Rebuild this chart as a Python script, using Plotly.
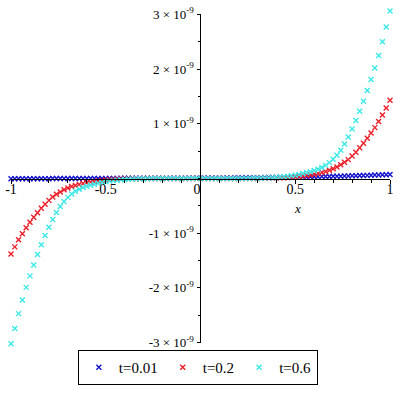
import numpy as np
import plotly.graph_objects as go

# x sampling grid (-1 .. 1, step 0.02)
x_vals = np.round(np.linspace(-1, 1, 101), 2)

# values in units of 1e-9
blue_t001 = [
    -0.006, -0.006, -0.005, -0.005, -0.005, -0.004, -0.004, -0.004, -0.003, -0.003,
    -0.003, -0.002, -0.002, -0.002, -0.001, -0.001, -0.001, 0.0, 0.0, 0.0,
    0.0, 0.001, 0.001, 0.001, 0.001, 0.002, 0.002, 0.002, 0.002, 0.003,
    0.003, 0.003, 0.003, 0.004, 0.004, 0.004, 0.004, 0.005, 0.005, 0.005,
    0.005, 0.006, 0.006, 0.006, 0.006, 0.007, 0.007, 0.007, 0.007, 0.008,
    0.008, 0.008, 0.009, 0.009, 0.009, 0.010, 0.010, 0.011, 0.011, 0.012,
    0.012, 0.013, 0.013, 0.014, 0.015, 0.015, 0.016, 0.017, 0.018, 0.019,
    0.020, 0.021, 0.022, 0.023, 0.024, 0.025, 0.026, 0.028, 0.029, 0.030,
    0.032, 0.033, 0.035, 0.036, 0.038, 0.040, 0.041, 0.043, 0.045, 0.047,
    0.049, 0.051, 0.053, 0.055, 0.057, 0.060, 0.062, 0.064, 0.067, 0.069,
    0.072,
]

red_t02 = [
    -1.38, -1.25, -1.12, -1.01, -0.90, -0.80, -0.71, -0.625, -0.545, -0.47,
    -0.40, -0.338, -0.288, -0.245, -0.205, -0.174, -0.148, -0.127, -0.108, -0.091,
    -0.076, -0.064, -0.053, -0.044, -0.035, -0.028, -0.023, -0.018, -0.014, -0.011,
    -0.009, -0.007, -0.005, -0.004, -0.003, -0.002, -0.001, -0.001, 0.0, 0.0,
    0.0, 0.0, 0.0, 0.0, 0.0, 0.0, 0.0, 0.0, 0.0, 0.0,
    0.0, 0.0, 0.0, 0.0, 0.0, 0.0, 0.0, 0.0, 0.0, 0.0,
    0.0, 0.0, 0.0, 0.001, 0.001, 0.002, 0.003, 0.004, 0.005, 0.007,
    0.009, 0.012, 0.015, 0.019, 0.024, 0.029, 0.036, 0.045, 0.055, 0.066,
    0.078, 0.093, 0.110, 0.130, 0.152, 0.178, 0.210, 0.250, 0.295, 0.345,
    0.410, 0.480, 0.560, 0.645, 0.735, 0.830, 0.930, 1.040, 1.160, 1.290,
    1.430,
]

cyan_t06 = [
    -3.02, -2.74, -2.47, -2.22, -1.99, -1.78, -1.58, -1.39, -1.21, -1.04,
    -0.89, -0.75, -0.62, -0.51, -0.42, -0.345, -0.285, -0.235, -0.195, -0.165,
    -0.142, -0.122, -0.105, -0.088, -0.072, -0.058, -0.047, -0.038, -0.030, -0.024,
    -0.019, -0.014, -0.010, -0.007, -0.005, -0.004, -0.003, -0.002, -0.001, -0.001,
    0.0, 0.0, 0.0, 0.0, 0.0, 0.0, 0.0, 0.0, 0.0, 0.0,
    0.0, 0.0, 0.0, 0.0, 0.0, 0.0, 0.0, 0.0, 0.0, 0.0,
    0.0, 0.001, 0.001, 0.002, 0.003, 0.004, 0.006, 0.008, 0.011, 0.015,
    0.020, 0.025, 0.032, 0.040, 0.049, 0.060, 0.074, 0.090, 0.108, 0.125,
    0.145, 0.170, 0.200, 0.240, 0.290, 0.350, 0.425, 0.515, 0.630, 0.760,
    0.905, 1.06, 1.23, 1.41, 1.61, 1.81, 2.02, 2.25, 2.50, 2.77,
    3.06,
]

series_names = ["t=0.01", "t=0.2", "t=0.6"]
series_values = [blue_t001, red_t02, cyan_t06]
series_colors = ["rgb(20,20,205)", "rgb(235,30,40)", "rgb(60,232,232)"]

x_tick_vals = [-1, -0.5, 0, 0.5, 1]
x_tick_text = ["-1", "-0.5", "0&nbsp;&nbsp;", "0.5", "1"]
y_tick_vals = [-3, -2, -1, 1, 2, 3]
y_tick_text = ["-3 × 10<sup>-9</sup>", "-2 × 10<sup>-9</sup>", "-1 × 10<sup>-9</sup>",
               "1 × 10<sup>-9</sup>", "2 × 10<sup>-9</sup>", "3 × 10<sup>-9</sup>"]

FONT = "Liberation Serif"

fig = go.Figure()
for name, vals, col in zip(series_names, series_values, series_colors):
    fig.add_trace(go.Scatter(
        x=x_vals, y=vals, name=name, mode="markers", cliponaxis=False,
        marker=dict(symbol="x-thin", size=5, color=col,
                    line=dict(width=1.4, color=col)),
    ))

fig.update_layout(
    width=400, height=400,
    margin=dict(l=11, r=10, t=10, b=53),
    paper_bgcolor="white", plot_bgcolor="white",
    font=dict(family=FONT, size=13, color="black"),
    showlegend=True,
    legend=dict(orientation="h", x=0.493, xanchor="center", y=-0.009, yanchor="top",
                bordercolor="black", borderwidth=1, bgcolor="white",
                font=dict(family=FONT, size=15), itemwidth=30,
                tracegroupgap=0),
    xaxis=dict(range=[-1, 1], anchor="free", position=0.5, showgrid=False,
               zeroline=False, showline=True, linecolor="black", linewidth=1,
               ticks="outside", ticklen=4, tickcolor="black",
               tickvals=x_tick_vals, ticktext=x_tick_text,
               tickfont=dict(family=FONT, size=14),
               ticklabelstandoff=-6, ticklabeloverflow="allow",
               minor=dict(ticks="outside", dtick=0.1, ticklen=3, tickcolor="black"),
               automargin=False),
    yaxis=dict(range=[-3.08, 3.08], anchor="free", position=0.5, showgrid=False,
               zeroline=False, showline=False,
               ticks="outside", ticklen=4, tickcolor="black",
               tickvals=y_tick_vals, ticktext=y_tick_text,
               tickfont=dict(family=FONT, size=13),
               ticklabeloverflow="allow",
               minor=dict(ticks="outside", dtick=0.5, ticklen=3, tickcolor="black"),
               automargin=False),
    shapes=[dict(type="line", xref="x", yref="y", x0=0, x1=0, y0=-3, y1=3,
                 line=dict(color="black", width=1))],
    annotations=[dict(x=0.51, y=-0.55, xref="x", yref="y", text="<i>x</i>",
                      showarrow=False, font=dict(family=FONT, size=13))],
)

fig.write_html("out.html", config={"displayModeBar": False},
               post_script="document.body.style.margin='0';")
